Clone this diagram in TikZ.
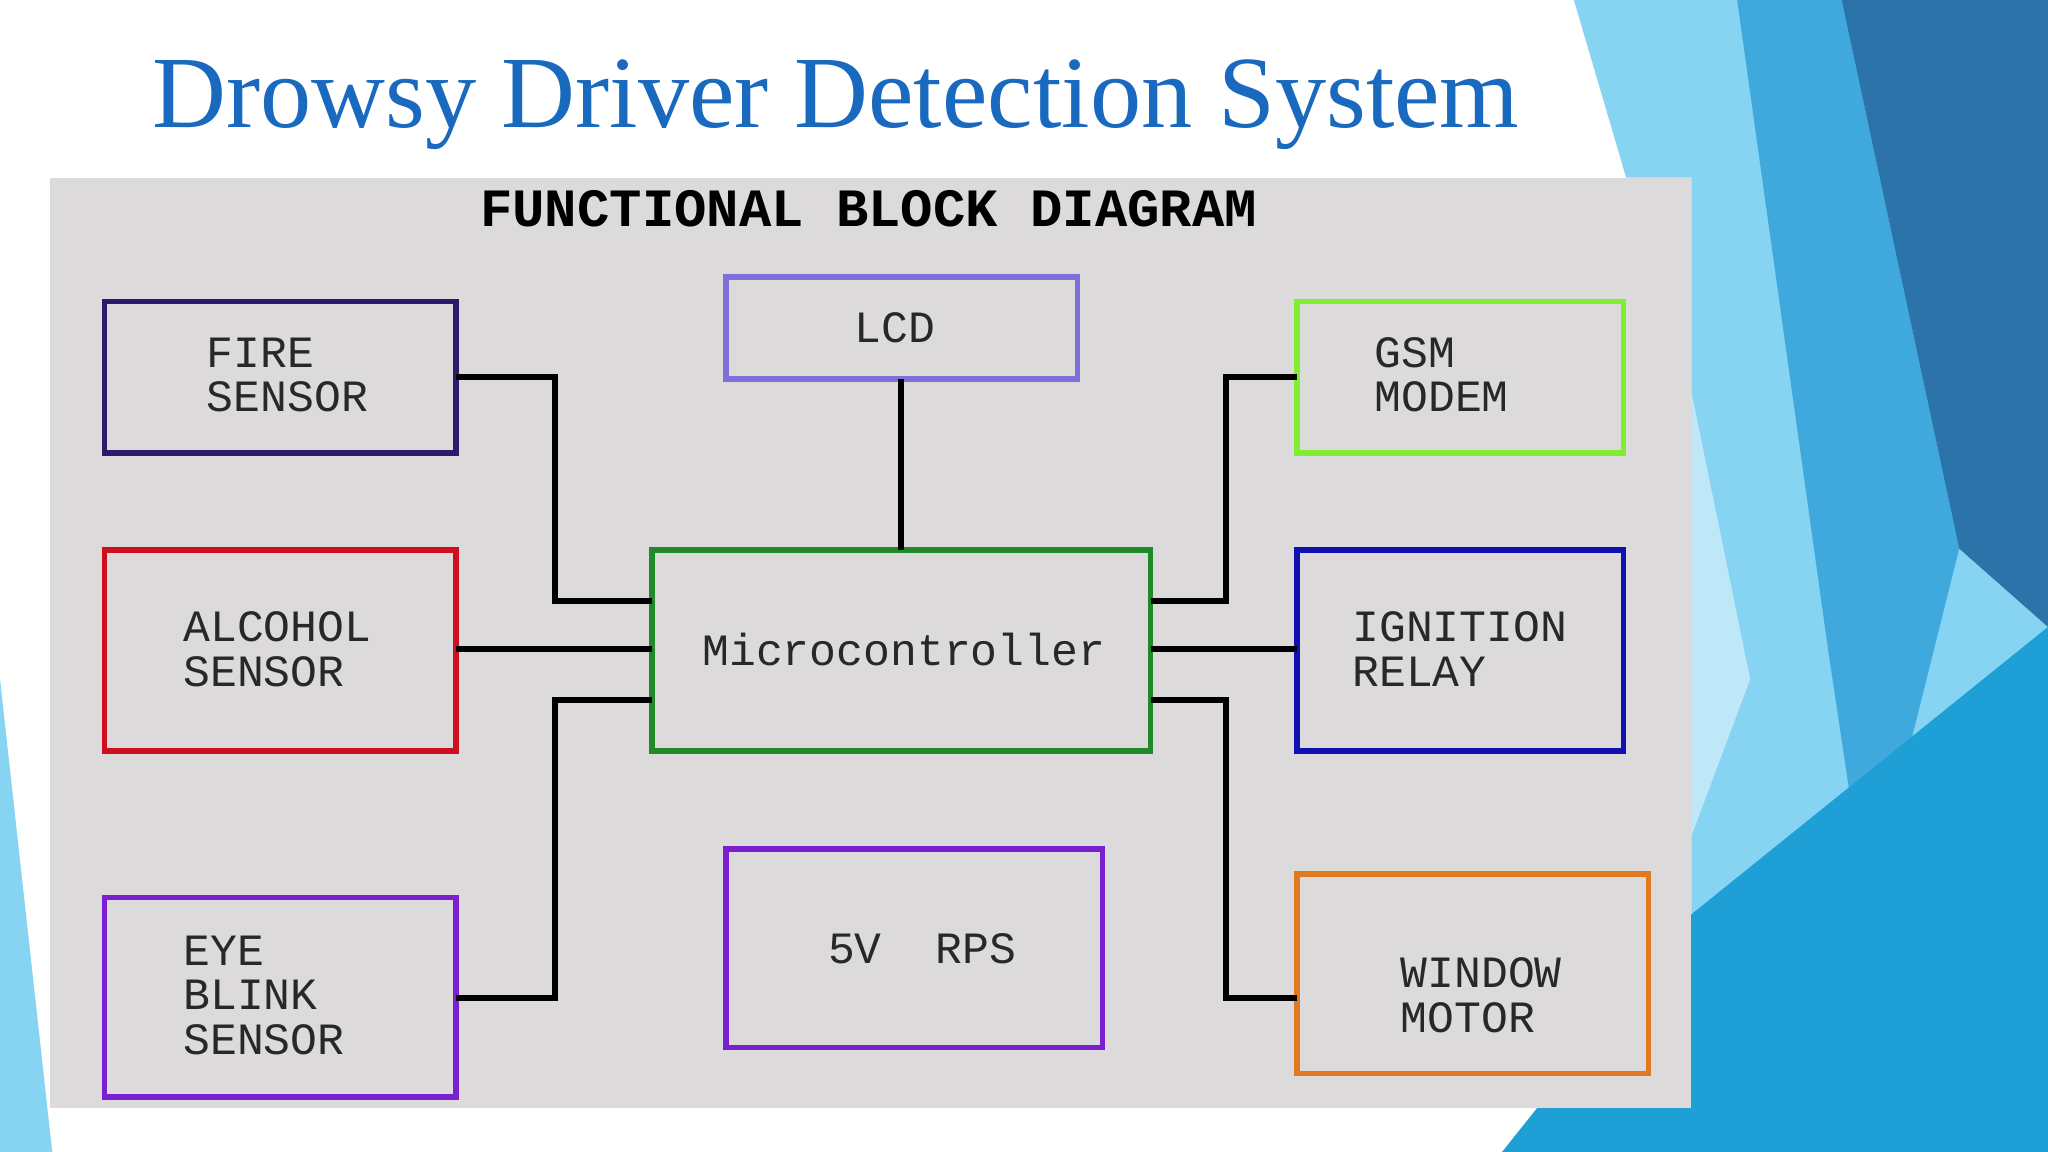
\documentclass[tikz,border=0pt]{standalone}
\usepackage{fontspec}
\setmainfont{Liberation Serif}
\newfontfamily\mono{Liberation Mono}
\begin{document}
\begin{tikzpicture}[x=0.02cm,y=-0.02cm,
  blk/.style={draw,line width=2.4pt,fill=none},
  lab/.style={font=\mono\fontsize{19.5}{19.5}\selectfont,text={rgb,255:red,40;green,40;blue,40},align=left,anchor=west,inner sep=0pt},
  wire/.style={line width=2.6pt,black}]
\definecolor{panel}{HTML}{DCDADB}
\useasboundingbox (0,0) rectangle (1568,882);
\fill[white] (0,0) rectangle (1568,882);
% background decoration
\fill[color={rgb,255:red,134;green,211;blue,242}] (1205,0)--(1568,0)--(1568,882)--(1150,882)--(1295,760)--(1295,136)--(1245,136)--cycle;
\fill[color={rgb,255:red,190;green,232;blue,248}] (1295,300)--(1340,520)--(1295,640)--cycle;
\fill[color={rgb,255:red,63;green,169;blue,221}] (1330,0)--(1410,0)--(1500,420)--(1430,700)--(1400,500)--cycle;
\fill[color={rgb,255:red,43;green,115;blue,168}] (1410,0)--(1568,0)--(1568,480)--(1500,420)--cycle;
\fill[color={rgb,255:red,30;green,160;blue,215}] (1295,700)--(1568,480)--(1568,882)--(1150,882)--cycle;
\fill[color={rgb,255:red,134;green,211;blue,242}] (0,520)--(40,882)--(0,882)--cycle;
\fill[panel] (38,136) rectangle (1295,848);
% title
\node[font=\fontsize{44.6}{44.6}\selectfont,text={rgb,255:red,25;green,105;blue,190}] (title) at (640,80) {Drowsy Driver Detection System};
\node[font=\mono\bfseries\fontsize{23.5}{23.5}\selectfont] (sub) at (665,160) {FUNCTIONAL BLOCK DIAGRAM};
% boxes
\draw[blk,color={rgb,255:red,45;green,26;blue,107}] (80,231) rectangle (349,347);
\draw[blk,color={rgb,255:red,204;green,16;blue,32}] (80,421) rectangle (349,575);
\draw[blk,color={rgb,255:red,122;green,32;blue,208}] (80,687) rectangle (349,840);
\draw[blk,color={rgb,255:red,127;green,111;blue,216}] (556,212) rectangle (825,290);
\draw[blk,color={rgb,255:red,30;green,138;blue,42}] (499,421) rectangle (881,575);
\draw[blk,color={rgb,255:red,122;green,31;blue,208}] (556,650) rectangle (844,802);
\draw[blk,color={rgb,255:red,128;green,238;blue,48}] (993,231) rectangle (1243,347);
\draw[blk,color={rgb,255:red,16;green,16;blue,176}] (993,421) rectangle (1243,575);
\draw[blk,color={rgb,255:red,224;green,122;blue,32}] (993,669) rectangle (1262,822);
% labels
\node[lab] (fire) at (158,287) {FIRE\\SENSOR};
\node[lab] (alc) at (140,497) {ALCOHOL\\SENSOR};
\node[lab] (eye) at (140,762) {EYE\\BLINK\\SENSOR};
\node[lab,anchor=center] (lcd) at (685,251) {LCD};
\node[lab,anchor=center] (mc) at (692,497) {Microcontroller};
\node[lab,anchor=center] (rps) at (706,726) {5V\ \ RPS};
\node[lab] (gsm) at (1052,287) {GSM\\MODEM};
\node[lab] (ign) at (1035,497) {IGNITION\\RELAY};
\node[lab] (win) at (1072,762) {WINDOW\\MOTOR};
% wires
\draw[wire] (349,289) -- (425,289) -- (425,460) -- (499,460);
\draw[wire] (349,497) -- (499,497);
\draw[wire] (349,764) -- (425,764) -- (425,536) -- (499,536);
\draw[wire] (690,290) -- (690,421);
\draw[wire] (993,289) -- (939,289) -- (939,460) -- (881,460);
\draw[wire] (881,497) -- (993,497);
\draw[wire] (993,764) -- (939,764) -- (939,536) -- (881,536);
\end{tikzpicture}
\end{document}
